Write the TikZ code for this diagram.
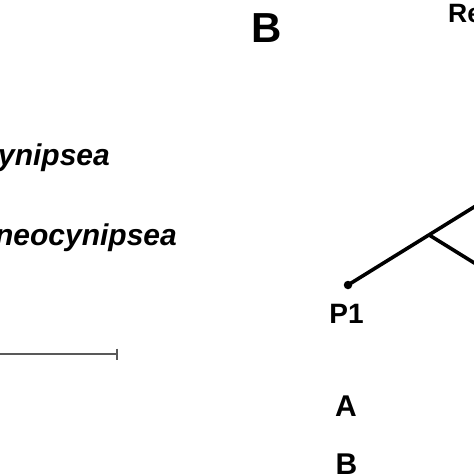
\documentclass[tikz,border=0pt]{standalone}
\usepackage{fontspec}
\setmainfont{Liberation Sans}
\begin{document}
\begin{tikzpicture}[x=1pt,y=-1pt,
  lab/.style={font=\bfseries\fontsize{28}{30}\selectfont, inner sep=0pt, anchor=base},
  biglab/.style={font=\bfseries\fontsize{42}{44}\selectfont, inner sep=0pt, anchor=base},
  species/.style={font=\bfseries\itshape\fontsize{30}{32}\selectfont, inner sep=0pt, anchor=base east},
  branch/.style={line width=3.6pt, black},
  scalebar/.style={line width=1.8pt, black!65},
  tipdot/.style={circle, fill=black, inner sep=0pt, minimum size=8.5pt}]
\useasboundingbox (0,0) rectangle (474,474);
\clip (0,0) rectangle (474,474);
\fill[white] (0,0) rectangle (474,474);
% panel letter
\node[biglab] (panelB) at (267,42) {B};
\node[lab, anchor=base west, font=\bfseries\fontsize{26.5}{28}\selectfont] (root) at (448,22) {Re};
% species labels (left panel, clipped)
\node[species] (sp1) at (110,165) {ynipsea};
\node[species] (sp2) at (177,245) {neocynipsea};
% scale bar
\coordinate (sb0) at (-5,354);
\coordinate (sb1) at (117,354);
\coordinate (sbt0) at (117,348.5);
\coordinate (sbt1) at (117,359.5);
\draw[scalebar] (sb0) -- (sb1);
\draw[scalebar] (sbt0) -- (sbt1);
% tree
\node[tipdot] (p1) at (348,285) {};
\coordinate (n1) at (429,234.9);
\coordinate (up) at (495,194);
\coordinate (down) at (495,275.8);
\draw[branch] (p1.center) -- (n1) -- (up);
\draw[branch] (n1) -- (down);
\node[lab] (p1lab) at (346.5,323) {P1};
\node[lab, font=\bfseries\fontsize{30}{32}\selectfont] (la) at (346,416) {A};
\node[lab, font=\bfseries\fontsize{30}{32}\selectfont] (lb) at (346.5,474.5) {B};
\end{tikzpicture}
\end{document}
